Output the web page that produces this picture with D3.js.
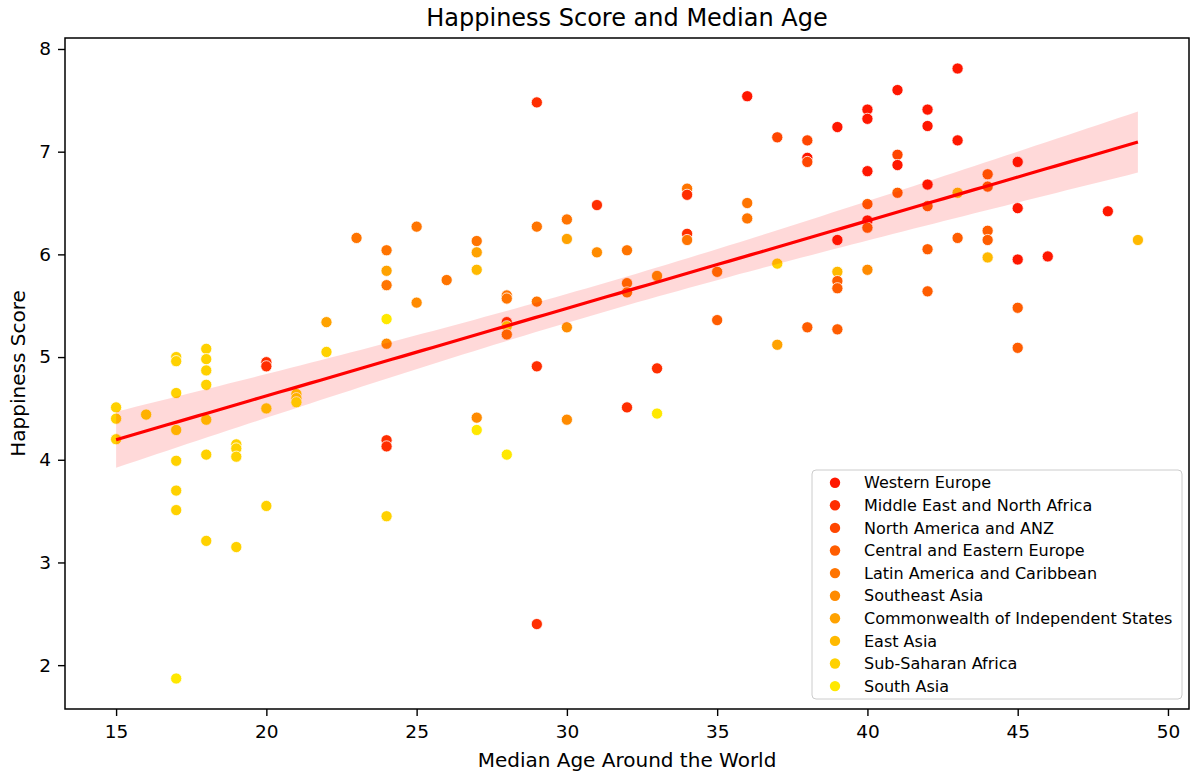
<!DOCTYPE html>
<html>
<head>
<meta charset="utf-8">
<script src="https://cdn.jsdelivr.net/npm/d3@7"></script>
<style>
  body { margin: 0; background: #fff; }
  svg text { font-family: "DejaVu Sans", sans-serif; fill: #000; }
</style>
</head>
<body>
<div id="chart"></div>
<script>
// regiones en el orden de la leyenda
const regions = [
  "Western Europe", "Middle East and North Africa", "North America and ANZ",
  "Central and Eastern Europe", "Latin America and Caribbean", "Southeast Asia",
  "Commonwealth of Independent States", "East Asia", "Sub-Saharan Africa", "South Asia"
];

// [edad mediana, puntaje de felicidad]
const westernEurope = [[43,7.81],[41,7.60],[36,7.54],[40,7.41],[42,7.41],[40,7.32],[42,7.25],[39,7.24],[43,7.11],[38,6.94],
  [45,6.90],[41,6.87],[40,6.81],[42,6.68],[45,6.45],[48,6.42],[40,6.33],[39,6.14],[46,5.98],[45,5.95]];
const middleEast = [[29,7.48],[34,6.58],[31,6.48],[34,6.20],[28,5.34],[20,4.95],[20,4.91],[29,4.91],[33,4.89],[32,4.51],
  [24,4.19],[24,4.13],[29,2.40]];
const northAmerica = [[37,7.14],[38,7.11],[41,6.97],[38,6.90]];
const centralEurope = [[44,6.78],[44,6.66],[41,6.60],[40,6.49],[42,6.47],[40,6.26],[44,6.23],[43,6.16],[44,6.14],[42,6.05],
  [39,5.74],[39,5.67],[42,5.64],[45,5.48],[35,5.36],[38,5.29],[39,5.27],[45,5.09]];
const latinAmerica = [[34,6.64],[36,6.50],[30,6.34],[36,6.35],[29,6.27],[25,6.27],[23,6.16],[27,6.13],[34,6.14],[24,6.04],
  [32,6.04],[35,5.83],[26,5.75],[32,5.72],[24,5.70],[32,5.63],[28,5.60],[28,5.57],[29,5.54],[28,5.22]];
const southeastAsia = [[31,6.02],[40,5.85],[33,5.79],[25,5.53],[30,5.29],[24,5.13],[27,4.41],[30,4.39]];
const commonwealth = [[30,6.15],[27,6.02],[24,5.84],[22,5.34],[37,5.12]];
const eastAsia = [[43,6.60],[49,6.14],[44,5.97],[27,5.85],[39,5.83]];
const subSaharan = [[37,5.91],[28,5.30],[18,5.08],[22,5.05],[17,5.00],[18,4.98],[17,4.96],[18,4.87],[18,4.73],[17,4.65],
  [21,4.64],[21,4.60],[15,4.51],[20,4.50],[16,4.44],[15,4.40],[18,4.39],[17,4.29],[15,4.20],[19,4.15],
  [19,4.11],[18,4.05],[19,4.03],[17,3.99],[17,3.70],[20,3.55],[17,3.51],[24,3.45],[18,3.21],[19,3.15]];
const southAsia = [[24,5.37],[21,4.56],[33,4.45],[27,4.29],[28,4.05],[17,1.87]];

const xTicks = [15, 20, 25, 30, 35, 40, 45, 50];
const yTicks = [2, 3, 4, 5, 6, 7, 8];

const byRegion = [westernEurope, middleEast, northAmerica, centralEurope, latinAmerica,
  southeastAsia, commonwealth, eastAsia, subSaharan, southAsia];

const data = byRegion.flatMap((pts, i) => pts.map(p => ({ region: regions[i], age: p[0], score: p[1] })))
  .sort((a, b) => b.score - a.score);

// paleta "autumn" de seaborn: rojo -> amarillo
const color = d3.scaleOrdinal()
  .domain(regions)
  .range(regions.map((r, i) => d3.rgb(255, Math.round(255 * (i + 1) / (regions.length + 1)), 0).formatHex()));

const width = 1200, height = 781;
const m = { left: 65, right: 1189, top: 38, bottom: 709 };

const svg = d3.select("#chart").append("svg")
  .attr("width", width)
  .attr("height", height);

const xExt = d3.extent(data, d => d.age);
const yExt = d3.extent(data, d => d.score);
const xPad = (xExt[1] - xExt[0]) * 0.05, yPad = (yExt[1] - yExt[0]) * 0.05;

const x = d3.scaleLinear().domain([xExt[0] - xPad, xExt[1] + xPad]).range([m.left, m.right]);
const y = d3.scaleLinear().domain([yExt[0] - yPad, yExt[1] + yPad]).range([m.bottom, m.top]);

// puntos
svg.append("g")
  .selectAll("circle")
  .data(data)
  .enter()
  .append("circle")
  .attr("cx", d => x(d.age))
  .attr("cy", d => y(d.score))
  .attr("r", 5.6)
  .attr("fill", d => color(d.region))
  .attr("stroke", "#fff")
  .attr("stroke-width", 0.8);

// regresion lineal con intervalo de confianza 95%
const n = data.length;
const mx = d3.mean(data, d => d.age), my = d3.mean(data, d => d.score);
const sxx = d3.sum(data, d => (d.age - mx) ** 2);
const sxy = d3.sum(data, d => (d.age - mx) * (d.score - my));
const slope = sxy / sxx, intercept = my - slope * mx;
const sres = Math.sqrt(d3.sum(data, d => (d.score - intercept - slope * d.age) ** 2) / (n - 2));
const tval = 1.98;
const fitX = d3.range(0, 101).map(i => xExt[0] + (xExt[1] - xExt[0]) * i / 100);
const band = fitX.map(v => {
  const yh = intercept + slope * v;
  const h = tval * sres * Math.sqrt(1 / n + (v - mx) ** 2 / sxx);
  return { v, lo: yh - h, hi: yh + h, yh };
});

svg.append("path")
  .datum(band)
  .attr("fill", "#ff0000")
  .attr("fill-opacity", 0.15)
  .attr("d", d3.area().x(d => x(d.v)).y0(d => y(d.lo)).y1(d => y(d.hi)));

svg.append("path")
  .datum(band)
  .attr("fill", "none")
  .attr("stroke", "#ff0000")
  .attr("stroke-width", 3.2)
  .attr("d", d3.line().x(d => x(d.v)).y(d => y(d.yh)));

// ejes
const gx = svg.append("g")
  .attr("transform", `translate(0,${m.bottom})`)
  .call(d3.axisBottom(x).tickValues(xTicks).tickSize(7).tickPadding(9).tickFormat(d3.format("d")));
const gy = svg.append("g")
  .attr("transform", `translate(${m.left},0)`)
  .call(d3.axisLeft(y).tickValues(yTicks).tickSize(7).tickPadding(7).tickFormat(d3.format("d")));
[gx, gy].forEach(g => {
  g.select(".domain").remove();
  g.selectAll("line").attr("stroke", "#000").attr("stroke-width", 1.4);
  g.selectAll("text").attr("font-size", 18.5).attr("font-family", "DejaVu Sans").attr("fill", "#000");
});

svg.append("rect")
  .attr("x", m.left).attr("y", m.top)
  .attr("width", m.right - m.left).attr("height", m.bottom - m.top)
  .attr("fill", "none").attr("stroke", "#000").attr("stroke-width", 1.5);

// titulos
svg.append("text")
  .attr("x", (m.left + m.right) / 2).attr("y", 26)
  .attr("text-anchor", "middle").attr("font-size", 24)
  .text("Happiness Score and Median Age");

svg.append("text")
  .attr("x", (m.left + m.right) / 2).attr("y", 767)
  .attr("text-anchor", "middle").attr("font-size", 20)
  .text("Median Age Around the World");

svg.append("text")
  .attr("transform", `translate(25,${(m.top + m.bottom) / 2}) rotate(-90)`)
  .attr("text-anchor", "middle").attr("font-size", 20)
  .text("Happiness Score");

// leyenda
const legend = svg.append("g").attr("transform", "translate(812,470)");
legend.append("rect")
  .attr("width", 370).attr("height", 229).attr("rx", 4)
  .attr("fill", "#fff").attr("fill-opacity", 0.8)
  .attr("stroke", "#cccccc").attr("stroke-width", 1);
const item = legend.selectAll("g.item")
  .data(regions)
  .enter()
  .append("g")
  .attr("class", "item")
  .attr("transform", (d, i) => `translate(0,${12.7 + i * 22.6})`);
item.append("circle")
  .attr("cx", 23).attr("r", 5.2)
  .attr("fill", d => color(d));
item.append("text")
  .attr("x", 52).attr("dy", "0.36em")
  .attr("font-size", 16)
  .text(d => d);
</script>
</body>
</html>
